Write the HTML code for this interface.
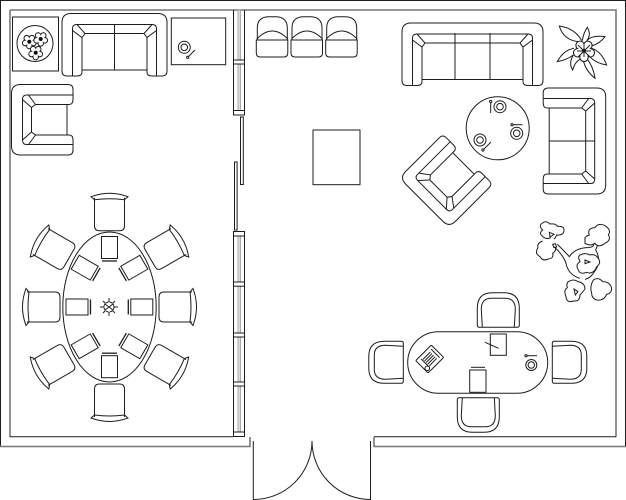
<!DOCTYPE html>
<html>
<head>
<meta charset="utf-8">
<style>
html,body{margin:0;padding:0;background:#fff;width:626px;height:500px;overflow:hidden}
svg{display:block}
.l{fill:none;stroke:#1c1c1c;stroke-width:1}
.w{fill:#fff;stroke:#1c1c1c;stroke-width:1}
.g{fill:none;stroke:#777;stroke-width:1.6}
.n{vector-effect:non-scaling-stroke}
.t path{fill:#fff;stroke:#1c1c1c;stroke-width:1;vector-effect:non-scaling-stroke}
.t path.o{fill:none}
</style>
</head>
<body>
<svg width="626" height="500" viewBox="0 0 626 500" xmlns="http://www.w3.org/2000/svg">
<defs>
<path id="blob" class="w n" d="M9 0A5.5 5.5 0 1 1 2.8 8.6A5.5 5.5 0 1 1 -7.3 5.3A5.5 5.5 0 1 1 -7.3 -5.3A5.5 5.5 0 1 1 2.8 -8.6A5.5 5.5 0 1 1 9 0Z"/>
<g id="dchair" class="l">
  <path d="M-15 -33V-5q0 5 5 5H10q5 0 5 -5V-33"/>
  <path d="M-18.5 -34Q0 -41 18.5 -34L15 -31Q0 -33 -15 -31Z"/>
</g>
<g id="mat" class="l">
  <rect x="-8" y="-11" width="16" height="22"/>
  <path d="M-7.5 13.5H7.5" stroke-width="1.3"/>
</g>
<g id="ochair" class="l">
  <path d="M-21 -2V-19Q-21 -34.5 -6 -34.5H6Q21 -34.5 21 -19V-2Q21 0 19 0H-19Q-21 0 -21 -2Z"/>
  <path d="M-16 0L-17 -18Q-17 -29 -7 -29H7Q17 -29 17 -18L16 0"/>
</g>
<g id="seat" class="l">
  <path d="M1 24V12Q1 .7 13 .7H19Q31 .7 31 12V24"/>
  <path d="M.5 23Q16 7 31.5 23"/>
  <path d="M0 24H31.5V37Q31.5 41 27.5 41H4Q0 41 0 37Z"/>
</g>
<g id="sofa2" class="l">
  <path d="M20 56.5v2q0 4 -5 4h-10q-5 0 -5 -5V9q0 -9 9 -9H96q9 0 9 9V57.5q0 5 -5 5h-10q-5 0 -5 -4v-2"/>
  <path d="M10.5 62.5V15q0 -4 4.5 -4H90q4.5 0 4.5 4V62.5"/>
  <path d="M20 24V56.5H85V24"/>
  <path d="M23 20H82"/>
  <path d="M10.5 17L20 24L23 20L15 11"/>
  <path d="M94.5 17L85 24L82 20L90 11"/>
  <path d="M52.5 11V56.5"/>
</g>
<g id="chair" class="l">
  <path d="M20 55.5v2q0 4 -5 4h-10q-5 0 -5 -5V9q0 -9 9 -9H61.5q9 0 9 9V56.5q0 5 -5 5h-10q-5 0 -5 -4v-2"/>
  <path d="M10.5 61.5V15q0 -4 4.5 -4H55.5q4.5 0 4.5 4V61.5"/>
  <path d="M20 24V55.5H50.5V24"/>
  <path d="M23 20H47.5"/>
  <path d="M10.5 17L20 24L23 20L15 11"/>
  <path d="M60 17L50.5 24L47.5 20L55.5 11"/>
</g>
</defs>

<!-- walls -->
<path class="l" d="M0 .5H626M.5 0V446"/>
<path class="g" d="M10 10H616V437M10 10V437M0 446.5H250V437M374 437V446.5H626"/>
<path class="l" d="M10 436.7H233M374 436.7H616M625.5 0V446"/>

<!-- windows -->
<g>
  <rect x="238" y="10" width="2.5" height="105" fill="#ddd" stroke="#999" stroke-width=".8"/>
  <rect x="238" y="231.5" width="2.5" height="204.5" fill="#ddd" stroke="#999" stroke-width=".8"/>
</g>
<g class="w">
  <rect x="233.5" y="60" width="11" height="4"/>
  <rect x="233.5" y="110.5" width="11" height="4.5"/>
  <rect x="233.5" y="231.5" width="11" height="4.5"/>
  <rect x="233.5" y="282" width="11" height="4.2"/>
  <rect x="233.5" y="333" width="11" height="4"/>
  <rect x="233.5" y="382" width="11" height="4"/>
  <rect x="233.5" y="432" width="11" height="4.5"/>
</g>
<g class="l">
  <path d="M233.5 10V115M244.5 10V115M233.5 231.5V436M244.5 231.5V436"/>
  <rect x="240.5" y="117" width="2.8" height="67.5"/>
  <rect x="234.5" y="162" width="2.6" height="68"/>
</g>

<!-- door -->
<path class="l" d="M253.3 441V499.5A58.5 58.5 0 0 0 312 441A58.5 58.5 0 0 0 370.5 499.5V441"/>

<!-- planter -->
<rect class="l" x="12.5" y="17" width="46" height="54"/>
<circle class="l" cx="35" cy="43.5" r="18"/>
<use href="#blob" transform="translate(29.3 41.7) rotate(-90) scale(.5)"/>
<use href="#blob" transform="translate(40.7 39) rotate(-90) scale(.5)"/>
<use href="#blob" transform="translate(35.7 52.7) rotate(-90) scale(.5)"/>
<circle cx="29.3" cy="41.7" r="2" fill="#111"/>
<circle cx="40.7" cy="39" r="2" fill="#111"/>
<circle cx="35.7" cy="52.7" r="2" fill="#111"/>

<!-- left sofa, side table, armchair -->
<use href="#sofa2" transform="translate(62 13.5)"/>
<rect class="l" x="171.3" y="18" width="54.4" height="46.7"/>
<circle class="l" cx="184.3" cy="47.3" r="6"/>
<circle class="l" cx="184.3" cy="47.3" r="3.3"/>
<path class="l" d="M188 57L195 50" stroke-width="1.4"/>
<circle class="l" cx="187.7" cy="57.3" r="1.1"/>
<use href="#chair" transform="translate(11.5 155) rotate(-90)"/>

<!-- dining -->
<ellipse class="l" cx="109.5" cy="307" rx="46.7" ry="75"/>
<use href="#dchair" transform="translate(109.5 230.7)"/>
<use href="#dchair" transform="translate(109.5 384) rotate(180)"/>
<use href="#dchair" transform="translate(159 307) rotate(90)"/>
<use href="#dchair" transform="translate(60 307) rotate(-90)"/>
<use href="#dchair" transform="translate(150 258) rotate(60)"/>
<use href="#dchair" transform="translate(69 258) rotate(-60)"/>
<use href="#dchair" transform="translate(150 356) rotate(120)"/>
<use href="#dchair" transform="translate(69 356) rotate(-120)"/>
<use href="#mat" transform="translate(109.5 247.5)"/>
<use href="#mat" transform="translate(109.5 366.7) rotate(180)"/>
<use href="#mat" transform="translate(141.8 307) rotate(90)"/>
<use href="#mat" transform="translate(77 307) rotate(-90)"/>
<use href="#mat" transform="translate(134.3 267.7) rotate(60)"/>
<use href="#mat" transform="translate(84.7 267.7) rotate(-60)"/>
<use href="#mat" transform="translate(134.3 346.3) rotate(120)"/>
<use href="#mat" transform="translate(84.7 346.3) rotate(-120)"/>
<circle class="l" cx="109" cy="307" r="5" stroke-dasharray="3 1"/>
<path class="l" stroke-width=".8" d="M100 307H104M114 307H118M109 298V302M109 312V316M103 301L105.5 303.5M115 301L112.5 303.5M103 313L105.5 310.5M115 313L112.5 310.5M105 304L113 310M113 304L105 310"/>

<!-- top seats and centre table -->
<use href="#seat" transform="translate(256.3 16)"/>
<use href="#seat" transform="translate(291 16)"/>
<use href="#seat" transform="translate(325.7 16)"/>
<rect class="l" x="313" y="130" width="47" height="54.7"/>

<!-- right lounge -->
<g class="l" transform="translate(402 23)">
  <path d="M20 56.5v2q0 4 -5 4h-10q-5 0 -5 -5V9q0 -9 9 -9H132q9 0 9 9V57.5q0 5 -5 5h-10q-5 0 -5 -4v-2"/>
  <path d="M10.5 62.5V15q0 -4 4.5 -4H126q4.5 0 4.5 4V62.5"/>
  <path d="M20 24V56.5H121V24"/>
  <path d="M23 20H118"/>
  <path d="M10.5 17L20 24L23 20L15 11"/>
  <path d="M130.5 17L121 24L118 20L126 11"/>
  <path d="M53 10V56.5M88 10V56.5"/>
</g>
<g class="l" transform="translate(605.7 88) rotate(90)">
  <path d="M20 56.5v2q0 4 -5 4h-10q-5 0 -5 -5V9q0 -9 9 -9H97q9 0 9 9V57.5q0 5 -5 5h-10q-5 0 -5 -4v-2"/>
  <path d="M10.5 62.5V15q0 -4 4.5 -4H91q4.5 0 4.5 4V62.5"/>
  <path d="M20 24V56.5H86V24"/>
  <path d="M23 20H83"/>
  <path d="M10.5 17L20 24L23 20L15 11"/>
  <path d="M95.5 17L86 24L83 20L91 11"/>
  <path d="M53 11V56.5"/>
</g>
<use href="#chair" transform="translate(446 181) rotate(-135) translate(-35.2 -30.7)"/>

<!-- coffee table -->
<circle class="l" cx="497.7" cy="128.3" r="31.5"/>
<circle class="l" cx="500" cy="106.7" r="6"/>
<circle class="l" cx="500" cy="106.7" r="3.3"/>
<path class="l" d="M490.7 103V113" stroke-width="1.4"/>
<circle class="l" cx="490.7" cy="101.5" r="1.1"/>
<circle class="l" cx="516.7" cy="133.3" r="6"/>
<circle class="l" cx="516.7" cy="133.3" r="3.3"/>
<path class="l" d="M513.5 124.7H522.5" stroke-width="1.4"/>
<circle class="l" cx="512" cy="124.7" r="1.1"/>
<circle class="l" cx="480" cy="140" r="6"/>
<circle class="l" cx="480" cy="140" r="3.3"/>
<path class="l" d="M484 149L491 142" stroke-width="1.4"/>
<circle class="l" cx="483" cy="150" r="1.1"/>

<!-- plant -->
<g class="t" transform="translate(550 20) scale(.3333)">
  <path d="M85 65Q40 60 28 18Q75 25 95 62"/>
  <path d="M97 62Q100 40 112 22Q125 45 110 62"/>
  <path d="M110 62Q125 45 165 50Q150 70 125 78"/>
  <path d="M125 85Q155 95 170 135Q135 130 115 105"/>
  <path d="M110 115Q130 140 135 175Q105 150 100 120"/>
  <path d="M90 118Q75 125 68 150Q55 130 70 105"/>
  <path d="M70 105Q50 120 22 125Q40 90 72 85"/>
</g>
<use href="#blob" transform="translate(584 50.7) rotate(-90) scale(.76)"/>
<circle cx="584" cy="50.7" r="2" fill="#111"/>
<path class="l" stroke-width=".8" d="M578 45L590 57M590 45L578 57M584 44V57M577 51H591"/>

<!-- tree -->
<g class="t" transform="translate(530 215) scale(.3333)">
  <path class="o" d="M72 95Q100 120 108 145Q115 180 150 190M82 88Q105 110 118 125Q135 100 170 98Q185 98 190 92L195 80M205 85L197 105Q218 140 190 175Q180 190 165 193"/>
  <path d="M62 68Q48 75 38 64Q25 55 38 45Q24 32 38 24Q48 15 60 27Q78 25 82 34Q104 32 102 48Q100 62 80 60Q76 70 72 72"/>
  <path d="M38 78Q20 85 24 98Q12 115 30 125Q38 140 55 132Q72 130 68 115Q82 105 74 95"/>
  <path d="M165 75Q162 65 178 60Q170 40 195 38Q205 22 225 32Q245 45 235 60Q245 75 225 85Q205 100 195 85Q180 95 165 85Z"/>
  <path d="M150 120Q165 112 180 120Q195 115 205 130Q215 145 200 155Q190 180 170 172Q150 180 145 165Q135 150 150 140Q142 125 150 120Z"/>
  <path d="M115 200Q130 190 145 200Q165 205 165 222Q155 235 150 240Q150 260 130 258Q110 265 108 245Q100 225 112 218Q108 205 115 200Z"/>
  <path d="M190 195Q205 185 218 200Q240 200 245 220Q245 235 230 238Q222 258 200 255Q185 250 185 235Q178 215 190 195Z"/>
  <path class="o" d="M58 52L72 58L60 66ZM165 135L180 141L165 146ZM132 222L136 240L144 230ZM68 88L76 86L80 96L72 98Z"/>
</g>

<!-- right table -->
<rect class="l" x="407.7" y="331.7" width="140" height="61.6" rx="30.8" ry="30.8"/>
<use href="#ochair" transform="translate(498.3 327.3)"/>
<use href="#ochair" transform="translate(478.3 397.7) rotate(180)"/>
<use href="#ochair" transform="translate(403.3 362.3) rotate(-90)"/>
<use href="#ochair" transform="translate(552.3 362.3) rotate(90)"/>
<rect class="l" x="490.3" y="334" width="16" height="21.3"/>
<path class="l" d="M485 342.3L498.7 348.3" stroke-width="1.3"/>
<rect class="l" x="469.7" y="370" width="16.3" height="22.3"/>
<path class="l" d="M471 367.3H485" stroke-width="1.3"/>
<circle class="l" cx="531.3" cy="365" r="5.5"/>
<circle class="l" cx="531.3" cy="365" r="3.2"/>
<path class="l" d="M527.5 355.7H537" stroke-width="1.4"/>
<circle class="l" cx="526" cy="355.7" r="1.1"/>
<g class="l" transform="translate(429.7 359) rotate(45)">
  <rect x="-8.75" y="-11" width="17.5" height="22" rx="1"/>
  <path d="M-6 -8H6M-4.5 -5.5V5M-2.2 -5.5V5M0 -5.5V5M2.2 -5.5V5M4.5 -5.5V5M-6 6H6"/>
</g>
<circle class="w" cx="427.3" cy="368.3" r="2.3"/>
</svg>
</body>
</html>
